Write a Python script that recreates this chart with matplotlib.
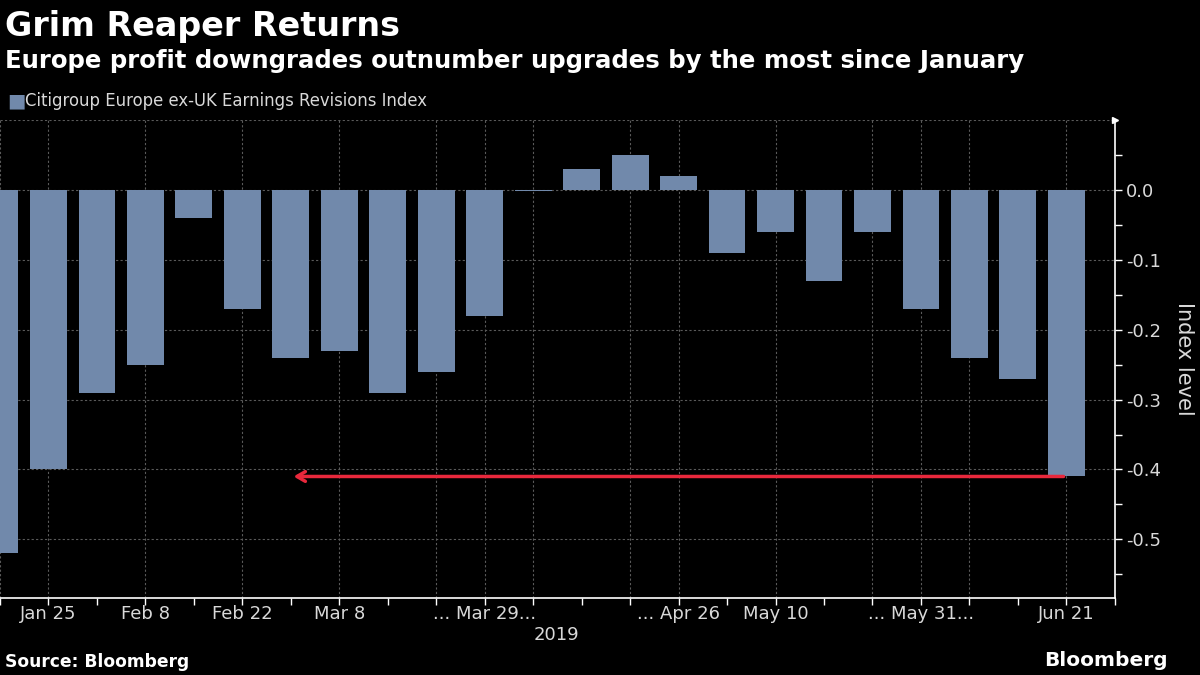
import numpy as np
import matplotlib
matplotlib.use("Agg")
import matplotlib.pyplot as plt

# weekly readings, Jan 18 .. Jun 21 2019
weeks = ["Jan 18", "Jan 25", "Feb 1", "Feb 8", "Feb 15", "Feb 22", "Mar 1", "Mar 8",
         "Mar 15", "Mar 22", "Mar 29", "Apr 5", "Apr 12", "Apr 19", "Apr 26", "May 3",
         "May 10", "May 17", "May 24", "May 31", "Jun 7", "Jun 14", "Jun 21"]
values = [-0.52, -0.40, -0.29, -0.25, -0.04, -0.17, -0.24, -0.23, -0.29, -0.26, -0.18,
          -0.001, 0.03, 0.05, 0.02, -0.09, -0.06, -0.13, -0.06, -0.17, -0.24, -0.27, -0.41]

# x tick labels (week index -> label) and vertical grid weeks
tick_idx = [1, 3, 5, 7, 10, 14, 16, 19, 22]
tick_txt = ["Jan 25", "Feb 8", "Feb 22", "Mar 8", "... Mar 29...", "... Apr 26",
            "May 10", "... May 31...", "Jun 21"]
grid_idx = [0, 1, 3, 5, 7, 9, 10, 11, 13, 14, 16, 18, 19, 20, 22]

y_ticks = [0.0, -0.1, -0.2, -0.3, -0.4, -0.5]
arrow_from, arrow_to, arrow_level = 22, 6, -0.41

BG = "black"
BAR = "#7189ab"
FG = "#d9d9d9"
GRID = "#5a5a5a"

fig = plt.figure(figsize=(12, 6.75), dpi=100, facecolor=BG)
ax = fig.add_axes([0.0, 0.114, 0.929, 0.708], facecolor=BG)

x = np.arange(len(values))
ax.bar(x, values, width=0.76, color=BAR, zorder=2)

ax.set_xlim(0, len(values))
ax.set_ylim(-0.584, 0.1)

# grid
for g in grid_idx:
    ax.axvline(g, color=GRID, lw=0.8, ls=(0, (2, 2)), zorder=1)
for yv in y_ticks + [0.1]:
    ax.axhline(yv, color=GRID, lw=0.8, ls=(0, (2, 2)), zorder=1)

# x axis: labelled weeks as major ticks, every week as minor tick
ax.set_xticks(tick_idx)
ax.set_xticklabels(tick_txt)
ax.set_xticks(np.arange(len(values) + 1), minor=True)
ax.tick_params(axis="x", which="both", length=5, width=1, color="white")
ax.tick_params(axis="x", which="major", labelcolor=FG, labelsize=13, pad=0)

# y axis on the right
ax.yaxis.tick_right()
ax.yaxis.set_label_position("right")
ax.set_yticks(y_ticks)
ax.set_yticklabels([f"{v:.1f}" for v in y_ticks])
ax.set_yticks([0.05, -0.05, -0.15, -0.25, -0.35, -0.45, -0.55], minor=True)
ax.tick_params(axis="y", which="major", length=5, width=1, color="white",
               labelcolor=FG, labelsize=13, pad=3)
ax.tick_params(axis="y", which="minor", length=5, width=1, color="white")
ax.set_ylabel("Index level", color=FG, fontsize=15, rotation=270, labelpad=24)

for s in ["left", "top"]:
    ax.spines[s].set_visible(False)
for s in ["right", "bottom"]:
    ax.spines[s].set_color("white")
    ax.spines[s].set_linewidth(1.2)
ax.plot([1], [1], marker=">", color="white", ms=5, transform=ax.transAxes,
        clip_on=False)

# red arrow
ax.annotate("", xy=(arrow_to, arrow_level), xytext=(arrow_from, arrow_level),
            arrowprops=dict(arrowstyle="->,head_length=0.6,head_width=0.35",
                            color="#e8283c", lw=2.5), zorder=3)

# titles and notes
fig.text(0.004, 0.985, "Grim Reaper Returns", color="white", fontsize=24,
         fontweight="bold", va="top")
fig.text(0.004, 0.928, "Europe profit downgrades outnumber upgrades by the most since January",
         color="white", fontsize=17.6, fontweight="bold", va="top")
fig.text(0.006, 0.851, "\u25a0", color=BAR, fontsize=14, va="center")
fig.text(0.021, 0.851, "Citigroup Europe ex-UK Earnings Revisions Index",
         color=FG, fontsize=11.9, va="center")
fig.text(0.464, 0.059, "2019", color=FG, fontsize=13, ha="center", va="center")
fig.text(0.004, 0.019, "Source: Bloomberg", color="white", fontsize=12.3,
         fontweight="bold", va="center")
fig.text(0.973, 0.022, "Bloomberg", color="white", fontsize=14.5,
         fontweight="bold", ha="right", va="center")

fig.savefig("out.png", dpi=100, facecolor=BG)
